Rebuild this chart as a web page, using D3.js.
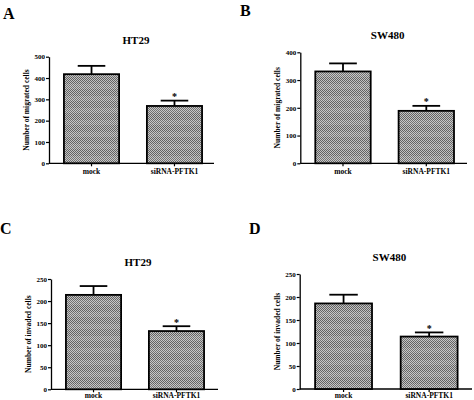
<!DOCTYPE html>
<html lang="en">
<head>
<meta charset="UTF-8">
<title>Migration and invasion</title>
<script src="https://d3js.org/d3.v7.min.js"></script>
<style>
  body { margin: 0; background: #fff; }
  svg { display: block; font-family: "Liberation Serif", "Times New Roman", serif; font-weight: bold; }
</style>
</head>
<body>
<svg id="chart" width="474" height="400"></svg>
<script>
  // Data
  const panelLetters = ["A", "B", "C", "D"];
  const cellLines = ["HT29", "SW480", "HT29", "SW480"];
  const yTitles = ["Number of migrated cells", "Number of migrated cells",
                   "Number of invaded cells", "Number of invaded cells"];
  const categories = ["mock", "siRNA-PFTK1"];
  const means = [[418, 269], [331, 189], [214, 132], [186, 114]];
  const upperErr = [[457, 294], [360, 207], [234, 143], [205, 123]];
  const yMax = [500, 400, 250, 250];
  const tickStep = [100, 100, 50, 50];
  const significant = [false, true]; // asterisk on siRNA bar

  // Layout of each panel (pixels in the 474x400 figure)
  const layout = [
    { left: 49,    right: 217, top: 56.7, bottom: 163.3, axisEnd: 214, letter: [3, 18.5], pad: 2 },
    { left: 300.3, right: 469, top: 52.3, bottom: 163.3, axisEnd: 467, letter: [240, 15.5], pad: 2 },
    { left: 51,    right: 219, top: 279,  bottom: 389.3, axisEnd: 218, letter: [0, 233.5], pad: 0.5 },
    { left: 299.7, right: 473, top: 274,  bottom: 389,   axisEnd: 472, letter: [249, 234], pad: 0.5 }
  ];

  const serif = "Liberation Serif";
  const svg = d3.select("#chart");
  const defs = svg.append("defs");

  // gray checker fill with faint horizontal bands
  const chk = defs.append("pattern").attr("id", "checker")
    .attr("patternUnits", "userSpaceOnUse").attr("width", 2).attr("height", 2);
  chk.append("rect").attr("width", 2).attr("height", 2).attr("fill", "#c2c2c2");
  chk.append("rect").attr("width", 1).attr("height", 1).attr("fill", "#626262");
  chk.append("rect").attr("x", 1).attr("y", 1).attr("width", 1).attr("height", 1).attr("fill", "#626262");

  const band = defs.append("pattern").attr("id", "bands")
    .attr("patternUnits", "userSpaceOnUse").attr("width", 4).attr("height", 12);
  band.append("rect").attr("y", 0).attr("width", 4).attr("height", 5)
    .attr("fill", "#fff").attr("opacity", 0.1);

  layout.forEach((L, i) => {
    const g = svg.append("g");

    const y = d3.scaleLinear().domain([0, yMax[i]]).range([L.bottom, L.top]);
    const x = d3.scaleBand().domain(categories).range([L.left, L.right])
      .paddingInner(0.335).paddingOuter(0.18);

    // panel letter
    g.append("text")
      .attr("x", L.letter[0]).attr("y", L.letter[1])
      .attr("font-size", 16).text(panelLetters[i]);

    // title
    const cx = (x(categories[0]) + x(categories[1]) + x.bandwidth()) / 2;
    g.append("text")
      .attr("x", cx + 3).attr("y", L.top - 13)
      .attr("text-anchor", "middle").attr("font-size", 11)
      .text(cellLines[i]);

    // y axis
    const yAxis = d3.axisLeft(y)
      .tickValues(d3.range(0, yMax[i] + 1, tickStep[i]))
      .tickSize(3).tickPadding(1).tickSizeOuter(0);
    const ya = g.append("g").attr("transform", `translate(${L.left},0)`).call(yAxis)
      .attr("font-family", serif).attr("font-weight", "bold");
    ya.select(".domain").attr("stroke-width", 1.3);
    ya.selectAll(".tick line").attr("stroke-width", 1.2);
    ya.selectAll(".tick text").attr("font-size", 7).attr("fill", "#000");

    // y title
    g.append("text")
      .attr("transform", `translate(${L.left - 20},${(L.top + L.bottom) / 2}) rotate(-90)`)
      .attr("text-anchor", "middle").attr("font-size", 7.5)
      .text(yTitles[i]);

    // x axis line and ticks
    g.append("line")
      .attr("x1", L.left).attr("x2", L.axisEnd)
      .attr("y1", L.bottom).attr("y2", L.bottom)
      .attr("stroke", "#000").attr("stroke-width", 1.3);

    const xAxis = d3.axisBottom(x).tickSize(3).tickPadding(L.pad).tickSizeOuter(0);
    const xa = g.append("g").attr("transform", `translate(0,${L.bottom})`).call(xAxis)
      .attr("font-family", serif).attr("font-weight", "bold");
    xa.select(".domain").remove();
    xa.selectAll(".tick line").attr("stroke-width", 1.2);
    xa.selectAll(".tick text").attr("font-size", 7.5).attr("fill", "#000");

    const rows = categories.map((c, j) => ({ c, m: means[i][j], e: upperErr[i][j], sig: significant[j] }));

    // error bars (drawn behind the bars)
    const half = x.bandwidth() * 0.25;
    const eb = g.selectAll(".err").data(rows).enter().append("g");
    eb.append("line")
      .attr("x1", d => x(d.c) + x.bandwidth() / 2).attr("x2", d => x(d.c) + x.bandwidth() / 2)
      .attr("y1", d => y(d.m)).attr("y2", d => y(d.e))
      .attr("stroke", "#000").attr("stroke-width", 1.8);
    eb.append("line")
      .attr("x1", d => x(d.c) + x.bandwidth() / 2 - half)
      .attr("x2", d => x(d.c) + x.bandwidth() / 2 + half)
      .attr("y1", d => y(d.e)).attr("y2", d => y(d.e))
      .attr("stroke", "#000").attr("stroke-width", 1.8);

    // bars
    const bars = g.selectAll(".bar").data(rows).enter();
    bars.append("rect")
      .attr("x", d => x(d.c)).attr("width", x.bandwidth())
      .attr("y", d => y(d.m)).attr("height", d => L.bottom - y(d.m))
      .attr("fill", "url(#checker)");
    bars.append("rect")
      .attr("x", d => x(d.c)).attr("width", x.bandwidth())
      .attr("y", d => y(d.m)).attr("height", d => L.bottom - y(d.m))
      .attr("fill", "url(#bands)")
      .attr("stroke", "#000").attr("stroke-width", 1.8);

    // significance marks
    g.selectAll(".sig").data(rows.filter(d => d.sig)).enter().append("text")
      .attr("x", d => x(d.c) + x.bandwidth() / 2)
      .attr("y", d => y(d.e) - 0.5)
      .attr("text-anchor", "middle").attr("font-size", 10)
      .text("*");
  });
</script>
</body>
</html>
